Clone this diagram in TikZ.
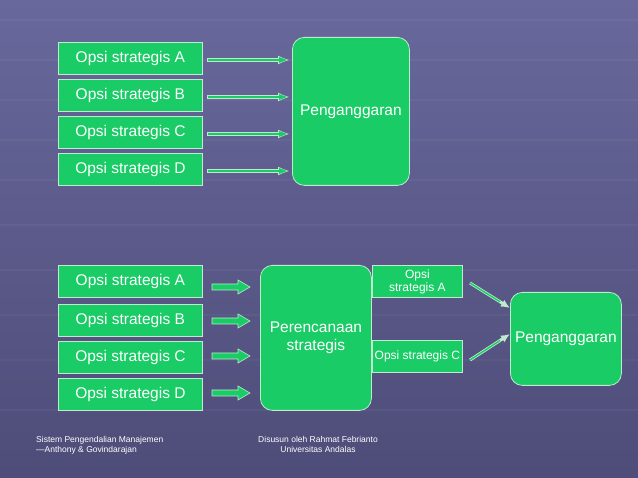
\documentclass[tikz,border=0pt]{standalone}
\usepackage{fontspec}
\setmainfont{Liberation Sans}
\usetikzlibrary{arrows.meta,calc}
\definecolor{gr}{RGB}{26,204,102}
\definecolor{bgtop}{RGB}{104,104,156}
\definecolor{bgbot}{RGB}{78,76,120}
\definecolor{edge}{RGB}{190,235,205}
\tikzset{x=1pt,y=-1pt,
 opt/.style={draw=edge,line width=0.8pt,fill=gr,text=white,font=\fontsize{15.5}{17}\selectfont,minimum width=144pt,minimum height=32pt,inner sep=0pt,anchor=north west},
 big/.style={draw=edge,line width=0.8pt,fill=gr,text=white,rounded corners=12pt,align=center,inner sep=0pt,anchor=north west,font=\fontsize{15.5}{18}\selectfont},
 small/.style={draw=edge,line width=0.8pt,fill=gr,text=white,font=\fontsize{12}{13}\selectfont,align=center,minimum width=90pt,minimum height=32pt,inner sep=0pt,anchor=north west},
 thinarr/.style={draw=edge,line width=3.4pt,-{Latex[length=12pt,width=9pt]}},
 thinin/.style={draw=gr,line width=1.6pt},
 blk/.style={fill=gr,draw=edge,line width=0.6pt},
 foot/.style={font=\fontsize{8.5}{10}\selectfont,text=white,inner sep=0pt}}
\begin{document}
\begin{tikzpicture}
\shade[top color=bgtop,bottom color=bgbot] (0,0) rectangle (638,478);
\useasboundingbox (0,0) rectangle (638,478);
\foreach \y in {20,60,100,140,180,225,270,315,360,410}
  \draw[white,opacity=0.04,line width=2pt] (0,\y) -- (638,\y);
% top
\node[opt] (a1) at (58,42) {Opsi strategis A};
\node[opt] (b1) at (58,79) {Opsi strategis B};
\node[opt] (c1) at (58,116) {Opsi strategis C};
\node[opt] (d1) at (58,153) {Opsi strategis D};
\node[big,minimum width=117pt,minimum height=148pt] (p1) at (292,37) {Penganggaran};
\foreach \n/\y in {a1/60,b1/97,c1/134,d1/171}{
  \coordinate (s\n) at (207,\y); \coordinate (e\n) at (290,\y);
  \draw[thinarr] (s\n) -- (e\n);
  \draw[thinin] (s\n) ++(0.8,0) -- ([xshift=-11pt]e\n);
  \fill[gr] ([xshift=-11pt,yshift=-3pt]e\n) -- ([xshift=-3pt]e\n) -- ([xshift=-11pt,yshift=3pt]e\n) -- cycle;
}
% bottom
\node[opt] (a2) at (58,265) {Opsi strategis A};
\node[opt] (b2) at (58,304) {Opsi strategis B};
\node[opt] (c2) at (58,341) {Opsi strategis C};
\node[opt] (d2) at (58,378) {Opsi strategis D};
\node[big,minimum width=111pt,minimum height=145pt] (p2) at (260,265) {Perencanaan\\strategis};
\foreach \y in {287,321,356,393}
  \draw[blk] (212,\y-3) -- (238,\y-3) -- (238,\y-7) -- (250,\y) -- (238,\y+7) -- (238,\y+3) -- (212,\y+3) -- cycle;
\node[small] (oa) at (372,265) {Opsi\\strategis A};
\node[small] (oc) at (372,340) {Opsi strategis C};
\node[big,minimum width=111pt,minimum height=93pt] (p3) at (510,292) {Penganggaran};
\coordinate (x1) at (470,283); \coordinate (y1) at (510,308);
\coordinate (x2) at (470,360); \coordinate (y2) at (510,334);
\draw[draw=edge,line width=3pt,-{Latex[length=9pt,width=8pt]}] (x1) -- (y1);
\draw[draw=gr,line width=1.4pt] (x1) -- ($(x1)!0.75!(y1)$);
\draw[draw=edge,line width=3pt,-{Latex[length=9pt,width=8pt]}] (x2) -- (y2);
\draw[draw=gr,line width=1.4pt] (x2) -- ($(x2)!0.75!(y2)$);
% footer
\node[foot,anchor=north west,align=left] (f1) at (36,436) {Sistem Pengendalian Manajemen\\---Anthony \& Govindarajan};
\node[foot,anchor=north,align=center] (f2) at (318,436) {Disusun oleh Rahmat Febrianto\\Universitas Andalas};
\end{tikzpicture}
\end{document}
